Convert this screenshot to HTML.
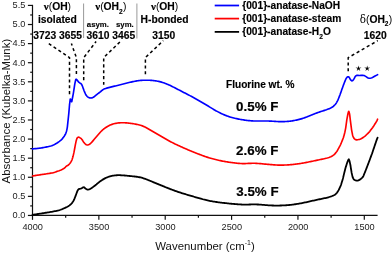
<!DOCTYPE html>
<html><head><meta charset="utf-8"><style>
html,body{margin:0;padding:0;background:#fff;}
svg{display:block;}
text{font-family:"Liberation Sans",Arial,sans-serif;}
</style></head><body>
<svg width="392" height="254" viewBox="0 0 392 254">
<rect width="392" height="254" fill="#fff"/>
<g stroke="#111" stroke-width="1.2" fill="none">
<line x1="32.50" y1="4.85" x2="32.50" y2="216.05" />
<line x1="27.9" y1="215.45" x2="32.50" y2="215.45" />
<line x1="30.2" y1="205.90" x2="32.50" y2="205.90" />
<line x1="27.9" y1="196.36" x2="32.50" y2="196.36" />
<line x1="30.2" y1="186.81" x2="32.50" y2="186.81" />
<line x1="27.9" y1="177.26" x2="32.50" y2="177.26" />
<line x1="30.2" y1="167.72" x2="32.50" y2="167.72" />
<line x1="27.9" y1="158.17" x2="32.50" y2="158.17" />
<line x1="30.2" y1="148.62" x2="32.50" y2="148.62" />
<line x1="27.9" y1="139.08" x2="32.50" y2="139.08" />
<line x1="30.2" y1="129.53" x2="32.50" y2="129.53" />
<line x1="27.9" y1="119.98" x2="32.50" y2="119.98" />
<line x1="30.2" y1="110.44" x2="32.50" y2="110.44" />
<line x1="27.9" y1="100.89" x2="32.50" y2="100.89" />
<line x1="30.2" y1="91.35" x2="32.50" y2="91.35" />
<line x1="27.9" y1="81.80" x2="32.50" y2="81.80" />
<line x1="30.2" y1="72.25" x2="32.50" y2="72.25" />
<line x1="27.9" y1="62.71" x2="32.50" y2="62.71" />
<line x1="30.2" y1="53.16" x2="32.50" y2="53.16" />
<line x1="27.9" y1="43.61" x2="32.50" y2="43.61" />
<line x1="30.2" y1="34.07" x2="32.50" y2="34.07" />
<line x1="27.9" y1="24.52" x2="32.50" y2="24.52" />
<line x1="30.2" y1="14.97" x2="32.50" y2="14.97" />
<line x1="27.9" y1="5.43" x2="32.50" y2="5.43" />
<line x1="31.90" y1="215.45" x2="377.60" y2="215.45" />
<line x1="32.50" y1="215.45" x2="32.50" y2="219.85" />
<line x1="65.68" y1="215.45" x2="65.68" y2="217.85" />
<line x1="98.86" y1="215.45" x2="98.86" y2="219.85" />
<line x1="132.04" y1="215.45" x2="132.04" y2="217.85" />
<line x1="165.22" y1="215.45" x2="165.22" y2="219.85" />
<line x1="198.40" y1="215.45" x2="198.40" y2="217.85" />
<line x1="231.58" y1="215.45" x2="231.58" y2="219.85" />
<line x1="264.76" y1="215.45" x2="264.76" y2="217.85" />
<line x1="297.94" y1="215.45" x2="297.94" y2="219.85" />
<line x1="331.12" y1="215.45" x2="331.12" y2="217.85" />
<line x1="364.30" y1="215.45" x2="364.30" y2="219.85" />
</g>
<g font-size="9.2" fill="#222">
<text x="25.4" y="218.25" text-anchor="end">0.0</text>
<text x="25.4" y="199.16" text-anchor="end">0.5</text>
<text x="25.4" y="180.06" text-anchor="end">1.0</text>
<text x="25.4" y="160.97" text-anchor="end">1.5</text>
<text x="25.4" y="141.88" text-anchor="end">2.0</text>
<text x="25.4" y="122.78" text-anchor="end">2.5</text>
<text x="25.4" y="103.69" text-anchor="end">3.0</text>
<text x="25.4" y="84.60" text-anchor="end">3.5</text>
<text x="25.4" y="65.51" text-anchor="end">4.0</text>
<text x="25.4" y="46.41" text-anchor="end">4.5</text>
<text x="25.4" y="27.32" text-anchor="end">5.0</text>
<text x="25.4" y="8.23" text-anchor="end">5.5</text>
<text x="32.70" y="230.4" text-anchor="middle">4000</text>
<text x="99.06" y="230.4" text-anchor="middle">3500</text>
<text x="165.42" y="230.4" text-anchor="middle">3000</text>
<text x="231.78" y="230.4" text-anchor="middle">2500</text>
<text x="298.14" y="230.4" text-anchor="middle">2000</text>
<text x="364.50" y="230.4" text-anchor="middle">1500</text>
</g>
<text x="155.3" y="249.8" font-size="11.4" fill="#111">Wavenumber (cm<tspan font-size="7" dy="-4.5">-1</tspan><tspan dy="4.5">)</tspan></text>
<text transform="translate(10.1,111.1) rotate(-90)" text-anchor="middle" font-size="10.9" textLength="144.6" lengthAdjust="spacingAndGlyphs" fill="#111">Absorbance (Kubelka-Munk)</text>
<g fill="none" stroke-width="1.65" stroke-linejoin="round" stroke-linecap="round">
<path d="M32.50,148.90 L33.00,148.86 L33.99,148.77 L34.99,148.68 L35.99,148.59 L36.98,148.49 L37.97,148.38 L38.97,148.27 L39.96,148.14 L40.95,147.99 L41.93,147.84 L42.92,147.67 L43.90,147.49 L44.89,147.31 L45.87,147.12 L46.85,146.92 L47.83,146.72 L48.80,146.50 L49.77,146.26 L50.73,146.00 L51.68,145.69 L52.62,145.35 L53.53,144.96 L54.44,144.54 L55.32,144.08 L56.18,143.58 L57.03,143.05 L57.85,142.48 L58.66,141.90 L59.46,141.29 L60.23,140.67 L61.00,140.02 L61.74,139.36 L62.42,138.63 L63.04,137.85 L63.65,137.05 L64.21,136.23 L64.73,135.38 L65.24,134.52 L65.67,133.62 L66.02,132.69 L66.36,131.74 L66.62,130.78 L66.83,129.80 L67.03,128.82 L67.22,127.84 L67.37,126.86 L67.48,125.86 L67.58,124.87 L67.69,123.87 L67.80,122.88 L67.90,121.88 L68.01,120.89 L68.12,119.90 L68.22,118.90 L68.33,117.91 L68.44,116.91 L68.54,115.92 L68.65,114.92 L68.75,113.93 L68.85,112.93 L68.93,111.94 L69.01,110.94 L69.09,109.94 L69.17,108.95 L69.26,107.95 L69.34,106.95 L69.42,105.96 L69.51,104.96 L69.63,103.97 L69.75,102.98 L69.87,101.98 L69.99,100.99 L70.12,100.00 L70.24,99.07 L70.48,99.03 L70.83,99.89 L71.18,100.83 L71.53,101.68 L71.79,101.62 L71.98,100.69 L72.16,99.71 L72.34,98.72 L72.52,97.74 L72.71,96.76 L72.89,95.77 L73.07,94.79 L73.25,93.81 L73.42,92.82 L73.58,91.84 L73.73,90.85 L73.89,89.86 L74.04,88.87 L74.20,87.88 L74.35,86.89 L74.50,85.91 L74.66,84.92 L74.82,83.93 L75.02,82.95 L75.23,81.97 L75.44,81.00 L75.64,80.02 L75.90,79.22 L76.42,79.38 L77.09,80.09 L77.72,80.86 L78.33,81.66 L79.00,82.38 L79.81,82.95 L80.68,83.44 L81.42,84.04 L81.88,84.90 L82.28,85.81 L82.65,86.74 L82.98,87.68 L83.31,88.63 L83.64,89.57 L83.98,90.51 L84.36,91.44 L84.76,92.35 L85.16,93.27 L85.56,94.19 L86.00,95.07 L86.64,95.83 L87.34,96.54 L88.10,97.17 L88.99,97.60 L89.93,97.91 L90.91,98.00 L91.89,97.92 L92.80,97.55 L93.66,97.06 L94.47,96.48 L95.24,95.84 L96.01,95.20 L96.79,94.57 L97.57,93.95 L98.36,93.34 L99.15,92.73 L99.95,92.12 L100.72,91.49 L101.49,90.86 L102.27,90.22 L103.06,89.62 L103.90,89.09 L104.82,88.71 L105.77,88.42 L106.73,88.14 L107.69,87.87 L108.66,87.62 L109.63,87.37 L110.60,87.13 L111.57,86.90 L112.54,86.66 L113.50,86.41 L114.47,86.17 L115.45,85.94 L116.42,85.70 L117.39,85.47 L118.36,85.23 L119.33,85.00 L120.30,84.76 L121.28,84.52 L122.25,84.28 L123.22,84.04 L124.18,83.79 L125.15,83.54 L126.12,83.29 L127.09,83.05 L128.06,82.80 L129.03,82.56 L130.00,82.32 L130.97,82.08 L131.94,81.86 L132.92,81.65 L133.89,81.44 L134.87,81.25 L135.85,81.08 L136.84,80.92 L137.82,80.77 L138.81,80.65 L139.80,80.53 L140.80,80.44 L141.79,80.36 L142.79,80.30 L143.78,80.25 L144.78,80.22 L145.78,80.20 L146.77,80.20 L147.77,80.21 L148.77,80.24 L149.76,80.29 L150.76,80.35 L151.75,80.42 L152.75,80.51 L153.74,80.62 L154.73,80.75 L155.71,80.89 L156.69,81.05 L157.67,81.23 L158.65,81.43 L159.62,81.65 L160.58,81.89 L161.54,82.15 L162.50,82.44 L163.44,82.74 L164.38,83.06 L165.32,83.41 L166.24,83.77 L167.17,84.15 L168.08,84.54 L168.99,84.95 L169.90,85.37 L170.80,85.80 L171.70,86.24 L172.59,86.68 L173.48,87.13 L174.37,87.59 L175.26,88.05 L176.15,88.51 L177.04,88.97 L177.92,89.43 L178.81,89.89 L179.70,90.35 L180.59,90.81 L181.47,91.27 L182.36,91.73 L183.25,92.19 L184.14,92.64 L185.03,93.10 L185.92,93.55 L186.81,94.01 L187.70,94.46 L188.59,94.93 L189.47,95.39 L190.35,95.86 L191.23,96.34 L192.10,96.82 L192.98,97.31 L193.85,97.79 L194.72,98.28 L195.59,98.77 L196.47,99.26 L197.34,99.75 L198.21,100.24 L199.08,100.74 L199.95,101.23 L200.82,101.72 L201.68,102.22 L202.55,102.72 L203.41,103.23 L204.27,103.74 L205.13,104.25 L205.99,104.76 L206.85,105.28 L207.70,105.80 L208.55,106.31 L209.41,106.84 L210.26,107.36 L211.12,107.88 L211.97,108.39 L212.83,108.91 L213.69,109.42 L214.55,109.92 L215.42,110.42 L216.28,110.92 L217.16,111.40 L218.04,111.87 L218.92,112.34 L219.81,112.79 L220.71,113.23 L221.61,113.66 L222.51,114.08 L223.43,114.48 L224.34,114.87 L225.27,115.25 L226.20,115.61 L227.13,115.96 L228.07,116.30 L229.01,116.62 L229.96,116.92 L230.91,117.21 L231.87,117.49 L232.84,117.75 L233.80,118.00 L234.77,118.23 L235.75,118.45 L236.72,118.67 L237.70,118.87 L238.68,119.07 L239.66,119.26 L240.64,119.44 L241.63,119.61 L242.61,119.78 L243.60,119.93 L244.59,120.08 L245.58,120.23 L246.57,120.36 L247.56,120.48 L248.55,120.59 L249.54,120.68 L250.54,120.77 L251.53,120.84 L252.53,120.90 L253.53,120.95 L254.52,120.98 L255.52,121.01 L256.52,121.03 L257.52,121.03 L258.52,121.04 L259.52,121.03 L260.52,121.02 L261.52,121.01 L262.52,121.00 L263.51,120.99 L264.51,120.98 L265.51,120.98 L266.51,120.98 L267.51,121.00 L268.51,121.02 L269.50,121.06 L270.50,121.10 L271.50,121.16 L272.50,121.22 L273.49,121.28 L274.49,121.35 L275.49,121.41 L276.48,121.48 L277.48,121.53 L278.48,121.58 L279.47,121.62 L280.47,121.64 L281.47,121.65 L282.46,121.65 L283.46,121.63 L284.46,121.59 L285.46,121.54 L286.45,121.48 L287.45,121.40 L288.44,121.31 L289.43,121.20 L290.42,121.08 L291.41,120.95 L292.40,120.81 L293.39,120.65 L294.37,120.48 L295.35,120.30 L296.33,120.10 L297.30,119.89 L298.27,119.66 L299.24,119.42 L300.20,119.16 L301.16,118.88 L302.11,118.59 L303.06,118.28 L304.00,117.96 L304.94,117.63 L305.88,117.28 L306.81,116.92 L307.74,116.55 L308.66,116.17 L309.59,115.79 L310.51,115.41 L311.43,115.03 L312.36,114.66 L313.29,114.29 L314.22,113.92 L315.15,113.57 L316.08,113.22 L317.02,112.88 L317.97,112.55 L318.91,112.22 L319.85,111.90 L320.80,111.58 L321.75,111.27 L322.70,110.97 L323.66,110.66 L324.61,110.35 L325.55,110.03 L326.50,109.70 L327.43,109.35 L328.37,108.99 L329.29,108.62 L330.21,108.22 L331.11,107.79 L331.98,107.32 L332.82,106.78 L333.57,106.15 L334.27,105.44 L334.96,104.71 L335.62,103.96 L336.20,103.16 L336.70,102.30 L337.18,101.42 L337.65,100.54 L338.08,99.64 L338.46,98.72 L338.83,97.79 L339.19,96.86 L339.56,95.92 L339.92,94.99 L340.26,94.05 L340.59,93.11 L340.92,92.17 L341.26,91.22 L341.59,90.28 L341.92,89.34 L342.26,88.39 L342.60,87.45 L342.94,86.51 L343.28,85.57 L343.62,84.63 L343.96,83.69 L344.32,82.76 L344.70,81.83 L345.08,80.91 L345.45,79.98 L345.84,79.06 L346.31,78.19 L346.91,77.40 L347.56,76.77 L348.35,76.79 L349.13,77.31 L349.67,78.12 L350.13,79.00 L350.64,79.85 L351.32,80.54 L352.09,80.90 L352.78,80.49 L353.42,79.74 L353.97,78.91 L354.43,78.03 L354.89,77.14 L355.41,76.31 L356.14,75.65 L356.97,75.27 L357.91,75.37 L358.89,75.53 L359.88,75.52 L360.88,75.44 L361.88,75.40 L362.88,75.40 L363.86,75.48 L364.75,75.86 L365.61,76.37 L366.45,76.90 L367.29,77.46 L368.15,77.94 L369.10,78.20 L370.07,78.29 L371.02,78.04 L371.95,77.69 L372.86,77.29 L373.74,76.81 L374.62,76.33 L375.49,75.84 L376.37,75.37 L377.23,74.90 L377.60,74.70" stroke="#0000ff"/>
<path d="M32.50,176.00 L32.99,175.92 L33.98,175.75 L34.96,175.58 L35.95,175.42 L36.94,175.27 L37.93,175.12 L38.92,174.97 L39.91,174.82 L40.90,174.68 L41.89,174.54 L42.88,174.39 L43.87,174.25 L44.85,174.11 L45.84,173.96 L46.83,173.80 L47.82,173.65 L48.81,173.49 L49.79,173.33 L50.78,173.17 L51.76,173.01 L52.74,172.82 L53.70,172.60 L54.63,172.32 L55.54,171.99 L56.44,171.63 L57.36,171.28 L58.30,170.97 L59.25,170.66 L60.18,170.33 L61.11,169.96 L62.02,169.54 L62.90,169.08 L63.75,168.56 L64.57,167.99 L65.29,167.31 L65.93,166.55 L66.70,165.94 L67.58,165.53 L68.40,164.97 L69.14,164.30 L69.79,163.55 L70.41,162.76 L70.92,161.91 L71.39,161.03 L71.85,160.14 L72.20,159.21 L72.50,158.26 L72.79,157.30 L73.05,156.34 L73.29,155.36 L73.51,154.39 L73.74,153.42 L73.96,152.44 L74.15,151.46 L74.33,150.47 L74.50,149.49 L74.68,148.51 L74.86,147.52 L75.03,146.54 L75.21,145.55 L75.39,144.57 L75.60,143.59 L75.80,142.61 L76.01,141.63 L76.23,140.66 L76.49,139.70 L76.80,138.75 L77.25,137.88 L77.92,137.22 L78.75,137.18 L79.65,137.58 L80.49,138.11 L81.29,138.70 L81.94,139.44 L82.51,140.26 L83.01,141.13 L83.53,141.98 L84.16,142.75 L84.81,143.51 L85.51,144.21 L86.37,144.69 L87.28,145.01 L88.18,144.86 L89.09,144.44 L89.95,143.95 L90.68,143.28 L91.37,142.56 L92.05,141.83 L92.71,141.08 L93.37,140.33 L94.02,139.57 L94.67,138.81 L95.32,138.05 L95.97,137.29 L96.62,136.52 L97.27,135.76 L97.91,135.00 L98.56,134.24 L99.21,133.48 L99.87,132.73 L100.54,131.99 L101.23,131.27 L101.94,130.57 L102.67,129.90 L103.42,129.25 L104.20,128.63 L105.00,128.04 L105.82,127.48 L106.65,126.95 L107.51,126.44 L108.38,125.96 L109.27,125.52 L110.17,125.11 L111.08,124.73 L112.01,124.38 L112.95,124.07 L113.90,123.80 L114.86,123.56 L115.83,123.36 L116.81,123.19 L117.79,123.05 L118.77,122.94 L119.76,122.86 L120.75,122.80 L121.74,122.76 L122.73,122.75 L123.73,122.76 L124.72,122.79 L125.71,122.85 L126.71,122.92 L127.70,123.01 L128.69,123.12 L129.68,123.23 L130.67,123.36 L131.66,123.50 L132.65,123.65 L133.63,123.80 L134.62,123.96 L135.60,124.13 L136.58,124.32 L137.55,124.52 L138.52,124.74 L139.48,124.98 L140.43,125.25 L141.37,125.55 L142.30,125.88 L143.21,126.24 L144.12,126.63 L145.02,127.05 L145.90,127.49 L146.78,127.96 L147.65,128.44 L148.52,128.93 L149.38,129.43 L150.25,129.93 L151.11,130.44 L151.97,130.95 L152.83,131.45 L153.69,131.96 L154.56,132.46 L155.42,132.96 L156.29,133.46 L157.15,133.96 L158.02,134.46 L158.88,134.96 L159.75,135.46 L160.61,135.96 L161.48,136.47 L162.34,136.97 L163.20,137.48 L164.06,137.99 L164.92,138.49 L165.79,139.00 L166.65,139.50 L167.52,139.99 L168.39,140.48 L169.27,140.96 L170.15,141.44 L171.03,141.91 L171.91,142.37 L172.80,142.83 L173.70,143.27 L174.59,143.72 L175.49,144.15 L176.39,144.59 L177.30,145.01 L178.20,145.43 L179.11,145.85 L180.02,146.27 L180.93,146.68 L181.84,147.09 L182.76,147.50 L183.67,147.90 L184.59,148.31 L185.50,148.71 L186.42,149.10 L187.34,149.50 L188.26,149.89 L189.18,150.28 L190.10,150.67 L191.02,151.05 L191.95,151.43 L192.87,151.81 L193.80,152.18 L194.73,152.55 L195.66,152.92 L196.59,153.29 L197.52,153.65 L198.45,154.02 L199.39,154.38 L200.32,154.73 L201.25,155.09 L202.19,155.44 L203.13,155.79 L204.07,156.13 L205.01,156.46 L205.95,156.78 L206.90,157.10 L207.85,157.40 L208.80,157.70 L209.76,157.99 L210.72,158.27 L211.68,158.55 L212.64,158.81 L213.61,159.07 L214.57,159.32 L215.54,159.57 L216.51,159.81 L217.48,160.04 L218.46,160.26 L219.43,160.48 L220.41,160.68 L221.39,160.88 L222.37,161.07 L223.35,161.26 L224.34,161.43 L225.32,161.60 L226.31,161.77 L227.30,161.93 L228.28,162.08 L229.27,162.23 L230.26,162.38 L231.25,162.52 L232.24,162.65 L233.23,162.79 L234.22,162.92 L235.22,163.04 L236.21,163.15 L237.20,163.26 L238.19,163.35 L239.19,163.43 L240.18,163.50 L241.17,163.55 L242.17,163.58 L243.16,163.59 L244.15,163.59 L245.14,163.57 L246.13,163.53 L247.12,163.49 L248.10,163.44 L249.08,163.39 L250.06,163.35 L251.04,163.31 L252.01,163.28 L252.99,163.27 L253.97,163.28 L254.95,163.30 L255.93,163.33 L256.91,163.39 L257.90,163.45 L258.88,163.52 L259.87,163.61 L260.87,163.69 L261.86,163.78 L262.85,163.88 L263.85,163.97 L264.84,164.06 L265.84,164.15 L266.83,164.25 L267.83,164.34 L268.82,164.43 L269.82,164.51 L270.82,164.60 L271.81,164.68 L272.81,164.76 L273.81,164.84 L274.80,164.91 L275.80,164.97 L276.80,165.03 L277.79,165.07 L278.79,165.10 L279.79,165.13 L280.79,165.13 L281.79,165.13 L282.78,165.11 L283.78,165.09 L284.78,165.05 L285.78,165.00 L286.77,164.95 L287.77,164.88 L288.77,164.81 L289.77,164.74 L290.76,164.65 L291.76,164.56 L292.75,164.47 L293.75,164.36 L294.74,164.26 L295.73,164.14 L296.72,164.02 L297.71,163.89 L298.70,163.75 L299.69,163.60 L300.68,163.45 L301.67,163.29 L302.65,163.13 L303.64,162.95 L304.62,162.78 L305.60,162.59 L306.59,162.40 L307.57,162.21 L308.55,162.01 L309.53,161.81 L310.50,161.61 L311.48,161.40 L312.46,161.19 L313.44,160.99 L314.42,160.78 L315.40,160.57 L316.37,160.37 L317.35,160.16 L318.33,159.96 L319.31,159.76 L320.29,159.56 L321.27,159.35 L322.25,159.15 L323.22,158.95 L324.20,158.74 L325.17,158.52 L326.14,158.28 L327.11,158.03 L328.06,157.75 L329.01,157.44 L329.94,157.10 L330.84,156.70 L331.72,156.24 L332.57,155.73 L333.40,155.18 L334.18,154.57 L334.86,153.85 L335.51,153.09 L336.15,152.32 L336.76,151.53 L337.31,150.70 L337.79,149.83 L338.27,148.95 L338.75,148.07 L339.22,147.19 L339.69,146.31 L340.16,145.43 L340.60,144.53 L341.00,143.61 L341.38,142.69 L341.76,141.76 L342.14,140.84 L342.51,139.91 L342.88,138.98 L343.24,138.05 L343.57,137.11 L343.83,136.14 L344.09,135.17 L344.35,134.21 L344.60,133.24 L344.84,132.27 L345.04,131.29 L345.24,130.31 L345.43,129.33 L345.63,128.35 L345.79,127.36 L345.92,126.37 L346.06,125.38 L346.20,124.39 L346.33,123.40 L346.47,122.41 L346.61,121.42 L346.74,120.43 L346.90,119.44 L347.08,118.46 L347.26,117.47 L347.44,116.49 L347.62,115.51 L347.80,114.52 L348.02,113.55 L348.28,112.58 L348.54,111.61 L348.80,111.35 L349.09,112.31 L349.38,113.26 L349.62,114.23 L349.74,115.22 L349.86,116.22 L349.97,117.21 L350.09,118.20 L350.21,119.20 L350.33,120.19 L350.45,121.18 L350.58,122.17 L350.71,123.16 L350.84,124.16 L350.97,125.15 L351.10,126.14 L351.23,127.13 L351.36,128.12 L351.48,129.11 L351.63,130.10 L351.82,131.09 L352.01,132.07 L352.21,133.05 L352.41,134.03 L352.60,135.01 L352.84,135.97 L353.24,136.88 L353.69,137.78 L354.18,138.63 L354.90,139.24 L355.79,139.66 L356.72,139.86 L357.69,139.76 L358.67,139.56 L359.65,139.35 L360.59,139.04 L361.47,138.57 L362.30,138.01 L363.12,137.45 L363.95,136.89 L364.76,136.31 L365.53,135.67 L366.25,134.98 L366.96,134.28 L367.68,133.58 L368.40,132.88 L369.10,132.17 L369.74,131.41 L370.34,130.61 L370.94,129.81 L371.53,129.00 L372.13,128.20 L372.73,127.40 L373.31,126.59 L373.86,125.75 L374.39,124.90 L374.91,124.05 L375.44,123.20 L375.96,122.35 L376.48,121.50 L376.96,120.62 L377.36,119.75 L377.60,119.20" stroke="#ff0000"/>
<path d="M32.50,214.80 L32.99,214.73 L33.98,214.59 L34.97,214.44 L35.96,214.30 L36.95,214.15 L37.94,214.01 L38.93,213.86 L39.92,213.70 L40.91,213.55 L41.90,213.39 L42.88,213.24 L43.87,213.08 L44.86,212.92 L45.85,212.76 L46.83,212.61 L47.82,212.45 L48.81,212.28 L49.79,212.12 L50.78,211.95 L51.76,211.77 L52.75,211.59 L53.73,211.41 L54.71,211.22 L55.69,211.02 L56.67,210.81 L57.64,210.58 L58.61,210.33 L59.57,210.05 L60.51,209.75 L61.45,209.41 L62.38,209.04 L63.30,208.64 L64.21,208.23 L65.12,207.81 L66.02,207.38 L66.92,206.94 L67.80,206.48 L68.65,205.94 L69.46,205.36 L70.24,204.73 L70.98,204.07 L71.67,203.35 L72.32,202.59 L72.89,201.77 L73.41,200.92 L73.88,200.04 L74.32,199.14 L74.70,198.21 L75.05,197.28 L75.41,196.34 L75.76,195.41 L76.11,194.47 L76.45,193.53 L76.80,192.59 L77.15,191.66 L77.56,190.74 L78.03,189.87 L78.70,189.17 L79.58,188.81 L80.56,188.65 L81.49,188.33 L82.37,187.85 L83.21,187.33 L83.99,187.22 L84.71,187.81 L85.43,188.49 L86.23,189.08 L87.08,189.56 L87.99,189.61 L88.96,189.37 L89.91,189.07 L90.77,188.59 L91.61,188.05 L92.43,187.47 L93.23,186.88 L94.03,186.27 L94.82,185.67 L95.61,185.05 L96.40,184.43 L97.16,183.79 L97.93,183.15 L98.69,182.50 L99.47,181.88 L100.26,181.28 L101.07,180.69 L101.90,180.14 L102.74,179.60 L103.59,179.10 L104.47,178.62 L105.35,178.16 L106.25,177.74 L107.16,177.35 L108.09,176.99 L109.02,176.67 L109.97,176.38 L110.93,176.13 L111.90,175.90 L112.87,175.71 L113.85,175.55 L114.83,175.42 L115.82,175.33 L116.81,175.26 L117.80,175.22 L118.79,175.21 L119.78,175.22 L120.78,175.24 L121.77,175.28 L122.77,175.34 L123.76,175.41 L124.76,175.49 L125.75,175.58 L126.74,175.68 L127.74,175.78 L128.73,175.88 L129.73,175.99 L130.72,176.09 L131.71,176.19 L132.71,176.29 L133.70,176.40 L134.69,176.51 L135.68,176.63 L136.67,176.76 L137.65,176.90 L138.63,177.07 L139.60,177.25 L140.57,177.47 L141.52,177.71 L142.48,177.98 L143.42,178.27 L144.36,178.58 L145.30,178.92 L146.23,179.27 L147.15,179.63 L148.08,180.01 L149.00,180.38 L149.93,180.77 L150.85,181.15 L151.77,181.53 L152.70,181.92 L153.62,182.30 L154.54,182.68 L155.47,183.06 L156.39,183.44 L157.32,183.82 L158.25,184.19 L159.17,184.57 L160.10,184.95 L161.02,185.32 L161.95,185.70 L162.88,186.08 L163.80,186.45 L164.73,186.83 L165.65,187.21 L166.58,187.59 L167.51,187.96 L168.44,188.33 L169.37,188.70 L170.30,189.06 L171.23,189.42 L172.16,189.78 L173.10,190.13 L174.04,190.47 L174.98,190.81 L175.92,191.14 L176.87,191.46 L177.82,191.78 L178.76,192.10 L179.71,192.41 L180.67,192.72 L181.62,193.02 L182.57,193.32 L183.53,193.62 L184.48,193.91 L185.44,194.20 L186.40,194.49 L187.36,194.78 L188.31,195.06 L189.27,195.34 L190.23,195.62 L191.19,195.90 L192.15,196.18 L193.11,196.47 L194.07,196.75 L195.03,197.03 L195.99,197.32 L196.95,197.60 L197.90,197.89 L198.86,198.17 L199.82,198.45 L200.79,198.72 L201.75,198.99 L202.71,199.25 L203.68,199.50 L204.65,199.74 L205.62,199.98 L206.59,200.20 L207.57,200.42 L208.54,200.63 L209.52,200.82 L210.50,201.01 L211.49,201.20 L212.47,201.37 L213.46,201.54 L214.44,201.70 L215.43,201.85 L216.42,202.00 L217.41,202.15 L218.40,202.29 L219.39,202.42 L220.38,202.55 L221.37,202.67 L222.37,202.79 L223.36,202.90 L224.35,203.01 L225.35,203.12 L226.34,203.22 L227.34,203.33 L228.33,203.43 L229.32,203.53 L230.32,203.63 L231.31,203.73 L232.31,203.82 L233.31,203.92 L234.30,204.01 L235.30,204.10 L236.29,204.19 L237.29,204.26 L238.28,204.34 L239.28,204.40 L240.28,204.45 L241.28,204.50 L242.27,204.53 L243.27,204.55 L244.27,204.57 L245.27,204.57 L246.27,204.57 L247.27,204.55 L248.27,204.53 L249.27,204.51 L250.26,204.49 L251.26,204.46 L252.26,204.44 L253.26,204.43 L254.26,204.42 L255.26,204.43 L256.25,204.45 L257.25,204.48 L258.25,204.52 L259.24,204.57 L260.24,204.64 L261.23,204.71 L262.23,204.79 L263.23,204.88 L264.22,204.96 L265.22,205.05 L266.21,205.13 L267.21,205.21 L268.21,205.28 L269.20,205.34 L270.20,205.40 L271.20,205.45 L272.20,205.49 L273.20,205.52 L274.19,205.55 L275.19,205.56 L276.19,205.57 L277.19,205.57 L278.19,205.56 L279.19,205.55 L280.19,205.52 L281.19,205.49 L282.19,205.45 L283.18,205.41 L284.18,205.36 L285.18,205.30 L286.18,205.24 L287.17,205.16 L288.17,205.08 L289.16,204.99 L290.16,204.89 L291.15,204.78 L292.14,204.66 L293.13,204.53 L294.12,204.40 L295.11,204.25 L296.10,204.11 L297.09,203.95 L298.08,203.79 L299.06,203.62 L300.05,203.45 L301.03,203.27 L302.01,203.09 L302.99,202.90 L303.97,202.70 L304.95,202.49 L305.93,202.28 L306.90,202.07 L307.88,201.85 L308.85,201.63 L309.83,201.40 L310.80,201.18 L311.78,200.95 L312.75,200.73 L313.72,200.51 L314.70,200.29 L315.68,200.08 L316.65,199.87 L317.63,199.66 L318.61,199.46 L319.59,199.25 L320.57,199.05 L321.55,198.85 L322.52,198.65 L323.50,198.44 L324.48,198.23 L325.45,198.01 L326.43,197.78 L327.39,197.54 L328.36,197.28 L329.32,197.00 L330.27,196.71 L331.21,196.38 L332.15,196.02 L333.07,195.64 L333.97,195.23 L334.84,194.73 L335.64,194.15 L336.35,193.47 L336.97,192.70 L337.55,191.88 L338.08,191.03 L338.59,190.17 L339.07,189.30 L339.49,188.39 L339.90,187.48 L340.30,186.57 L340.71,185.65 L341.07,184.72 L341.37,183.77 L341.65,182.81 L341.94,181.85 L342.23,180.89 L342.51,179.93 L342.80,178.98 L343.06,178.01 L343.29,177.04 L343.52,176.07 L343.74,175.09 L343.97,174.12 L344.20,173.14 L344.44,172.17 L344.68,171.20 L344.93,170.23 L345.18,169.26 L345.43,168.30 L345.71,167.34 L346.01,166.38 L346.30,165.43 L346.60,164.47 L346.90,163.52 L347.23,162.58 L347.58,161.64 L347.93,160.70 L348.35,159.80 L348.79,159.30 L349.22,160.21 L349.57,161.14 L349.78,162.11 L349.99,163.09 L350.20,164.07 L350.40,165.05 L350.58,166.03 L350.73,167.02 L350.88,168.01 L351.03,169.00 L351.19,169.99 L351.34,170.97 L351.49,171.96 L351.66,172.95 L351.88,173.92 L352.10,174.90 L352.33,175.87 L352.55,176.84 L352.89,177.78 L353.38,178.64 L353.93,179.45 L354.70,180.03 L355.59,180.46 L356.54,180.65 L357.53,180.60 L358.47,180.34 L359.37,179.91 L360.22,179.39 L361.01,178.78 L361.76,178.12 L362.49,177.44 L363.08,176.67 L363.50,175.77 L363.87,174.84 L364.25,173.92 L364.63,172.99 L365.00,172.06 L365.38,171.14 L365.75,170.21 L366.12,169.28 L366.48,168.35 L366.84,167.41 L367.20,166.48 L367.56,165.55 L367.92,164.61 L368.28,163.68 L368.64,162.75 L368.99,161.81 L369.34,160.88 L369.69,159.94 L370.04,159.00 L370.38,158.06 L370.73,157.12 L371.08,156.19 L371.43,155.25 L371.77,154.31 L372.11,153.37 L372.43,152.42 L372.75,151.47 L373.07,150.53 L373.39,149.58 L373.71,148.63 L374.03,147.68 L374.35,146.74 L374.67,145.79 L374.99,144.84 L375.31,143.90 L375.64,142.95 L375.96,142.01 L376.29,141.06 L376.62,140.11 L376.95,139.17 L377.31,138.27 L377.60,137.60" stroke="#000" stroke-width="1.8"/>
</g>
<g stroke="#000" stroke-width="1.5" fill="none" stroke-dasharray="3.1 2.75">
<polyline points="47.3,42.5 69.5,57.7 69.5,95.5" stroke-dashoffset="4.04"/>
<polyline points="71.4,43.6 76.4,57.6 76.4,74.2" stroke-dashoffset="1.03"/>
<polyline points="96.1,41.5 83.7,57.7 83.7,80.6" stroke-dashoffset="1.15"/>
<polyline points="121.3,40.6 103.7,57.6 103.7,84.8" stroke-dashoffset="3.88"/>
<polyline points="163.3,40.6 145.4,57.6 145.4,74.8" stroke-dashoffset="2.61"/>
<polyline points="377.8,40.6 348.2,57.7 348.2,71.4" stroke-dashoffset="2.07"/>
</g>
<g stroke="#999" stroke-width="1">
<line x1="83.6" y1="3.5" x2="83.6" y2="38"/>
<line x1="136.9" y1="3.5" x2="136.9" y2="38.5"/>
</g>
<g stroke-width="1.75">
<line x1="214.7" y1="5.5" x2="239.1" y2="5.5" stroke="#0000ff"/>
<line x1="214.7" y1="18.6" x2="239.1" y2="18.6" stroke="#ff0000"/>
<line x1="214.7" y1="31.9" x2="239.1" y2="31.9" stroke="#000"/>
</g>
<g font-size="10.2" font-weight="bold" fill="#000" stroke="#000" stroke-width="0.15">
<text x="242.2" y="9.0">{001}-anatase-NaOH</text>
<text x="242.2" y="22.1">{001}-anatase-steam</text>
<text x="242.2" y="35.1">{001}-anatase-H<tspan font-size="6.6" dy="3.6">2</tspan><tspan dy="-3.6">O</tspan></text>
</g>
<g font-size="10.3" font-weight="bold" fill="#000" stroke="#000" stroke-width="0.15" text-anchor="middle">
<text x="57.4" y="9.9"><tspan font-family="Liberation Serif,serif" font-weight="bold" font-size="11">&#957;</tspan><tspan font-weight="normal" stroke="none">(</tspan>OH<tspan font-weight="normal" stroke="none">)</tspan></text>
<text x="57.4" y="22.7">isolated</text>
<text x="57.6" y="38.9">3723 3655</text>
<text x="110.8" y="9.9"><tspan font-family="Liberation Serif,serif" font-weight="bold" font-size="11">&#957;</tspan><tspan font-weight="normal" stroke="none">(</tspan>OH<tspan font-size="6.5" dy="3.8">2</tspan><tspan dy="-3.8" dx="0.3"><tspan font-weight="normal" stroke="none">)</tspan></tspan></text>
<text x="110.8" y="38.9">3610 3465</text>
<text x="164.6" y="9.9"><tspan font-family="Liberation Serif,serif" font-weight="bold" font-size="11">&#957;</tspan><tspan font-weight="normal" stroke="none">(</tspan>OH<tspan font-weight="normal" stroke="none">)</tspan></text>
<text x="164.6" y="22.6">H-bonded</text>
<text x="163.8" y="38.9">3150</text>
<text x="376" y="22.6"><tspan font-family="DejaVu Serif,serif" font-weight="normal" stroke="none" font-size="10.3">&#948;</tspan><tspan font-weight="normal" stroke="none">(</tspan>OH<tspan font-size="6.5" dy="3.8">2</tspan><tspan dy="-3.8" dx="0.3"><tspan font-weight="normal" stroke="none">)</tspan></tspan></text>
<text x="375.2" y="38.8">1620</text>
</g>
<g font-size="7.8" font-weight="bold" fill="#000" stroke="#000" stroke-width="0.12">
<text x="86.8" y="27.4">asym.</text>
<text x="116" y="27.4">sym.</text>
</g>
<text x="226" y="87.8" font-size="10.1" font-weight="bold" stroke="#000" stroke-width="0.15">Fluorine wt. %</text>
<g font-size="13.35" font-weight="bold" stroke="#000" stroke-width="0.18">
<text x="236.1" y="111.4">0.5% F</text>
<text x="236.1" y="155.1">2.6% F</text>
<text x="236.3" y="196.2">3.5% F</text>
</g>
<g fill="#000">
<polygon points="358.50,65.40 359.09,67.69 361.45,67.54 359.45,68.81 360.32,71.01 358.50,69.50 356.68,71.01 357.55,68.81 355.55,67.54 357.91,67.69"/>
<polygon points="367.20,65.40 367.79,67.69 370.15,67.54 368.15,68.81 369.02,71.01 367.20,69.50 365.38,71.01 366.25,68.81 364.25,67.54 366.61,67.69"/>
</g>
</svg>
</body></html>
